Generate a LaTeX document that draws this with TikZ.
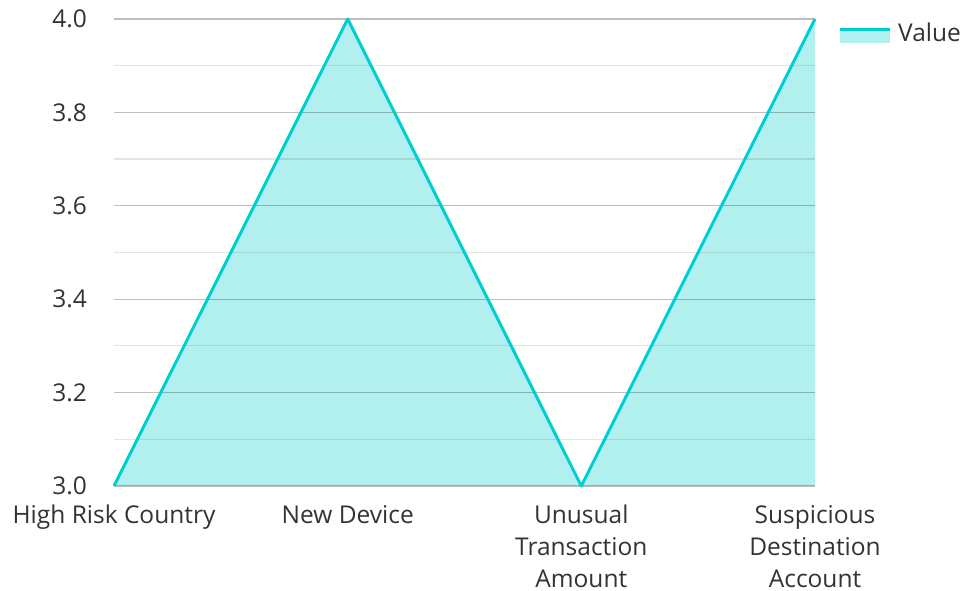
\documentclass[tikz,border=0pt]{standalone}
\usepackage{fontspec}
\setmainfont{Open Sans}
\definecolor{seriesline}{HTML}{00CED1}
\definecolor{seriesfill}{HTML}{B2EFEF}
\definecolor{labeltext}{HTML}{333333}
\tikzset{
  every node/.style={text=labeltext, font=\fontsize{24.5}{32}\selectfont},
  majorline/.style={draw=black, draw opacity=0.25, line width=1.2pt},
  minorline/.style={draw=black, draw opacity=0.1, line width=1.2pt},
  seriesstroke/.style={draw=seriesline, line width=3pt, line join=round},
  ylab/.style={anchor=east, inner sep=0pt},
  xlab/.style={anchor=north, align=center, inner sep=0pt}
}
\begin{document}
\begin{tikzpicture}[x=1pt, y=1pt]
  \useasboundingbox (0,0) rectangle (964,591);
  % plot area: x 114..815, value 3.0 at y=105, 4.0 at y=572
  \def\yv#1{105+467*(#1-3)}
  % data points
  \coordinate (p1) at (114,{\yv{3}});
  \coordinate (p2) at (347.7,{\yv{4}});
  \coordinate (p3) at (581.3,{\yv{3}});
  \coordinate (p4) at (815,{\yv{4}});
  \coordinate (b4) at (815,{\yv{3}});
  % area fill
  \fill[seriesfill] (p1) -- (p2) -- (p3) -- (p4) -- (b4) -- cycle;
  % minor grid lines
  \foreach \v in {3.1,3.3,3.5,3.7,3.9}
    \draw[minorline] (114,{\yv{\v}}) -- (815,{\yv{\v}});
  % major grid lines and value labels
  \foreach \v/\t in {3.0/3.0,3.2/3.2,3.4/3.4,3.6/3.6,3.8/3.8,4.0/4.0}{
    \draw[majorline] (114,{\yv{\v}}) -- (815,{\yv{\v}});
    \node[ylab] (y\t) at (87,{\yv{\v}}) {\t};
  }
  % series line
  \draw[seriesstroke] (p1) -- (p2) -- (p3) -- (p4);
  % category labels
  \node[xlab] (c1) at (114,86) {High Risk Country};
  \node[xlab] (c2) at (347.7,86) {New Device};
  \node[xlab] (c3) at (581.3,86) {Unusual\\Transaction\\Amount};
  \node[xlab] (c4) at (815,86) {Suspicious\\Destination\\Account};
  % legend
  \fill[seriesfill] (840,548) rectangle (890,561);
  \draw[draw=seriesline, line width=3pt] (840,561) -- (890,561);
  \node[anchor=west, inner sep=0pt] (leg) at (898,559) {Value};
\end{tikzpicture}
\end{document}
